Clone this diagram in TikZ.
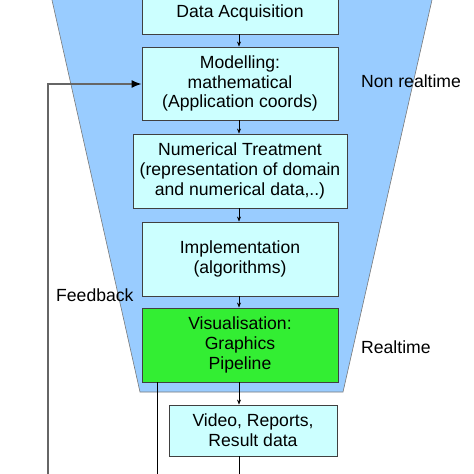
\documentclass[tikz,border=0pt]{standalone}
\usepackage{fontspec}
\setmainfont{Liberation Sans}
\usetikzlibrary{arrows.meta}
\definecolor{funnel}{HTML}{99CCFF}
\definecolor{boxfill}{HTML}{CCFFFF}
\definecolor{vgreen}{HTML}{33EE33}
\definecolor{edge}{HTML}{404040}
\begin{document}
\begin{tikzpicture}[x=1pt,y=-1pt,
  box/.style={draw=edge,line width=0.9pt,fill=boxfill,inner sep=0pt,align=center,
    font=\fontsize{17.6}{19.6}\selectfont},
  lbl/.style={font=\fontsize{17.6}{19.6}\selectfont,inner sep=0pt,anchor=west},
  flow/.style={-{Stealth[length=5pt,width=4pt]},line width=0.6pt,black},
  fb/.style={draw=gray!80!black,line width=1.4pt}]
\useasboundingbox (0,0) rectangle (474,474);
\begin{scope}
\clip (0,0) rectangle (474,474);
\fill[funnel,draw=edge!70,line width=0.6pt] (47.5,-20) -- (140,392) -- (343,392) -- (436.5,-20) -- cycle;
\node[box,minimum width=196pt,minimum height=60pt] (acq) at (240,4) {\\[11pt]Data Acquisition};
\end{scope}
\node[box,minimum width=196pt,minimum height=73pt] (mod) at (240,83.5) {Modelling:\\mathematical\\(Application coords)};
\node[box,minimum width=214pt,minimum height=74pt] (num) at (240,171) {Numerical Treatment\\(representation of domain\\and numerical data,..)};
\node[box,minimum width=196pt,minimum height=74pt] (impl) at (240,259) {Implementation\\(algorithms)};
\node[box,fill=vgreen,minimum width=196pt,minimum height=74pt] (vis) at (240,345) {Visualisation:\\Graphics\\Pipeline};
\node[box,minimum width=168pt,minimum height=51pt] (vid) at (253,430.5) {Video, Reports,\\Result data};
\node[lbl] (nrt) at (361,81) {Non realtime};
\node[lbl] (rt) at (361,347) {Realtime};
\node[lbl] (fbl) at (56,295) {Feedback};
\coordinate (fbb) at (48,474);
\coordinate (vb) at (157,474);
\coordinate (db) at (239,474);
\draw[flow] (acq.south -| 239,0) -- (mod.north -| 239,0);
\draw[flow] (mod.south -| 239,0) -- (num.north -| 239,0);
\draw[flow] (num.south -| 239,0) -- (impl.north -| 239,0);
\draw[flow] (impl.south -| 239,0) -- (vis.north -| 239,0);
\draw[flow] (vis.south -| 239,0) -- (vid.north -| 239,0);
\draw[line width=0.6pt,black] (vid.south -| 239,0) -- (db);
\draw[line width=0.6pt,black] (vis.south -| 157,0) -- (vb);
\draw[fb,-{Latex[black,length=10pt,width=8pt]}] (fbb) |- (mod.west |- 0,84);
\end{tikzpicture}
\end{document}
